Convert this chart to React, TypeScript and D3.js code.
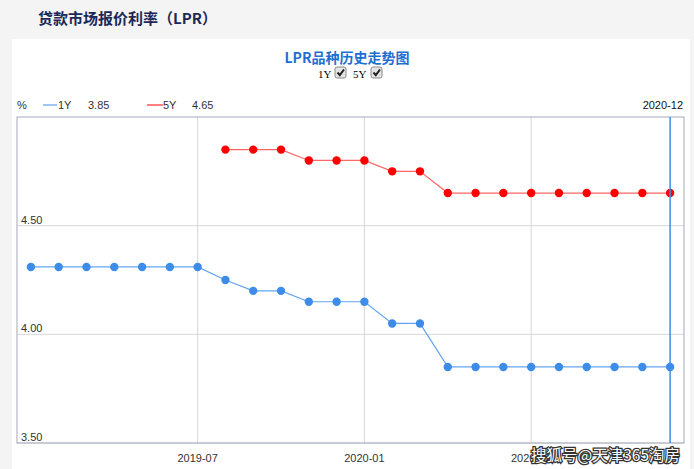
import React from 'react';
import * as d3 from 'd3';

const W = 694;
const H = 469;

// monthly LPR quotes, 2019-01 .. 2020-12
const months = [
  '2019-01', '2019-02', '2019-03', '2019-04', '2019-05', '2019-06',
  '2019-07', '2019-08', '2019-09', '2019-10', '2019-11', '2019-12',
  '2020-01', '2020-02', '2020-03', '2020-04', '2020-05', '2020-06',
  '2020-07', '2020-08', '2020-09', '2020-10', '2020-11', '2020-12'
];
const rate1Y = [
  4.31, 4.31, 4.31, 4.31, 4.31, 4.31, 4.31, 4.25, 4.20, 4.20, 4.15, 4.15,
  4.15, 4.05, 4.05, 3.85, 3.85, 3.85, 3.85, 3.85, 3.85, 3.85, 3.85, 3.85
];
const rate5Y = [
  null, null, null, null, null, null, null, 4.85, 4.85, 4.85, 4.80, 4.80,
  4.80, 4.75, 4.75, 4.65, 4.65, 4.65, 4.65, 4.65, 4.65, 4.65, 4.65, 4.65
];
const yTicks = [3.5, 4.0, 4.5];
const xTicks = ['2019-07', '2020-01', '2020-07'];
const current = '2020-12';

const plot = { left: 17, right: 684, top: 117, bottom: 443 };
const blue = '#3d8de8';
const red = '#ff0000';

export default function App() {
  const x = d3.scaleLinear()
    .domain([-0.5, months.length - 0.5])
    .range([plot.left, plot.right]);
  const y = d3.scaleLinear().domain([3.5, 5.0]).range([plot.bottom, plot.top]);
  const xm = (m: string) => x(months.indexOf(m));

  const line = d3.line<[number, number | null]>()
    .defined(d => d[1] != null)
    .x(d => x(d[0]))
    .y(d => y(d[1] as number));

  const pts = (arr: (number | null)[]) => arr.map((v, i) => [i, v] as [number, number | null]);
  const lastIdx = months.length - 1;

  const checkbox = (cx: number) => (
    <g transform={`translate(${cx},67)`}>
      <rect x={0} y={0} width={11} height={11} rx={2} fill="#e4e4e4" stroke="#8a8a8a" />
      <path d="M2.5,5.5 L4.8,8.2 L9,2.5" fill="none" stroke="#222" strokeWidth={2} />
    </g>
  );

  return (
    <svg width={W} height={H} style={{ position: 'absolute', left: 0, top: 0 }}
      fontFamily="Arial, 'Liberation Sans', sans-serif">
      <rect width={W} height={H} fill="#f4f4f4" />
      <text x={38} y={24} fontSize={15} fontWeight="bold" fill="#1b2858"
        fontFamily="'Noto Sans CJK SC', sans-serif">贷款市场报价利率（LPR）</text>
      <rect x={12} y={39} width={678} height={H - 39} fill="#fff" />

      <text x={347} y={63} textAnchor="middle" fontSize={14} fontWeight="bold" fill="#1f6fd1"
        fontFamily="'Noto Sans CJK SC', sans-serif">LPR品种历史走势图</text>
      <text x={318} y={78} fontSize={11} fill="#000" fontFamily="'Liberation Serif', serif">1Y</text>
      {checkbox(335)}
      <text x={353} y={78} fontSize={11} fill="#000" fontFamily="'Liberation Serif', serif">5Y</text>
      {checkbox(371)}

      {/* legend row */}
      <text x={17} y={109} fontSize={11} fill="#333">%</text>
      <line x1={43} x2={57} y1={105} y2={105} stroke={blue} />
      <text x={58} y={109} fontSize={11} fill="#333">1Y</text>
      <text x={88} y={109} fontSize={11} fill="#333">{rate1Y[lastIdx].toFixed(2)}</text>
      <line x1={147} x2={163} y1={105} y2={105} stroke={red} />
      <text x={163} y={109} fontSize={11} fill="#333">5Y</text>
      <text x={192} y={109} fontSize={11} fill="#333">{(rate5Y[lastIdx] as number).toFixed(2)}</text>
      <text x={683} y={109} fontSize={11} textAnchor="end" fill="#111">{current}</text>

      {/* grid */}
      {yTicks.map(t => (
        <g key={t}>
          <line x1={plot.left} x2={plot.right} y1={y(t)} y2={y(t)} stroke="#d6d6d6" />
          <text x={plot.left + 4} y={y(t) - 2} fontSize={11} fill="#333">{t.toFixed(2)}</text>
        </g>
      ))}
      {xTicks.map(m => (
        <g key={m}>
          <line x1={xm(m)} x2={xm(m)} y1={plot.top} y2={plot.bottom} stroke="#d6d6d6" />
          <text x={xm(m)} y={462} fontSize={11} textAnchor="middle" fill="#333">{m}</text>
        </g>
      ))}
      <rect x={plot.left} y={plot.top} width={plot.right - plot.left} height={plot.bottom - plot.top}
        fill="none" stroke="#a3aab8" />

      {/* series */}
      <path d={line(pts(rate1Y)) || ''} fill="none" stroke={blue} strokeOpacity={0.8} strokeWidth={1.2} />
      {rate1Y.map((v, i) => (
        <circle key={i} cx={x(i)} cy={y(v)} r={4.2} fill={blue} />
      ))}
      <path d={line(pts(rate5Y)) || ''} fill="none" stroke={red} strokeOpacity={0.6} strokeWidth={1.2} />
      {rate5Y.map((v, i) => v == null ? null : (
        <circle key={i} cx={x(i)} cy={y(v)} r={4.2} fill={red} />
      ))}

      {/* hover cursor on the latest month */}
      <line x1={xm(current)} x2={xm(current)} y1={plot.top} y2={plot.bottom} stroke={blue} strokeWidth={1.5} />

      <text x={680} y={461} textAnchor="end" fontSize={15.5} fill="#fff" stroke="#333" strokeWidth={2.5}
        paintOrder="stroke" fontFamily="'Noto Sans CJK SC', sans-serif">搜狐号@天津365淘房</text>
    </svg>
  );
}
